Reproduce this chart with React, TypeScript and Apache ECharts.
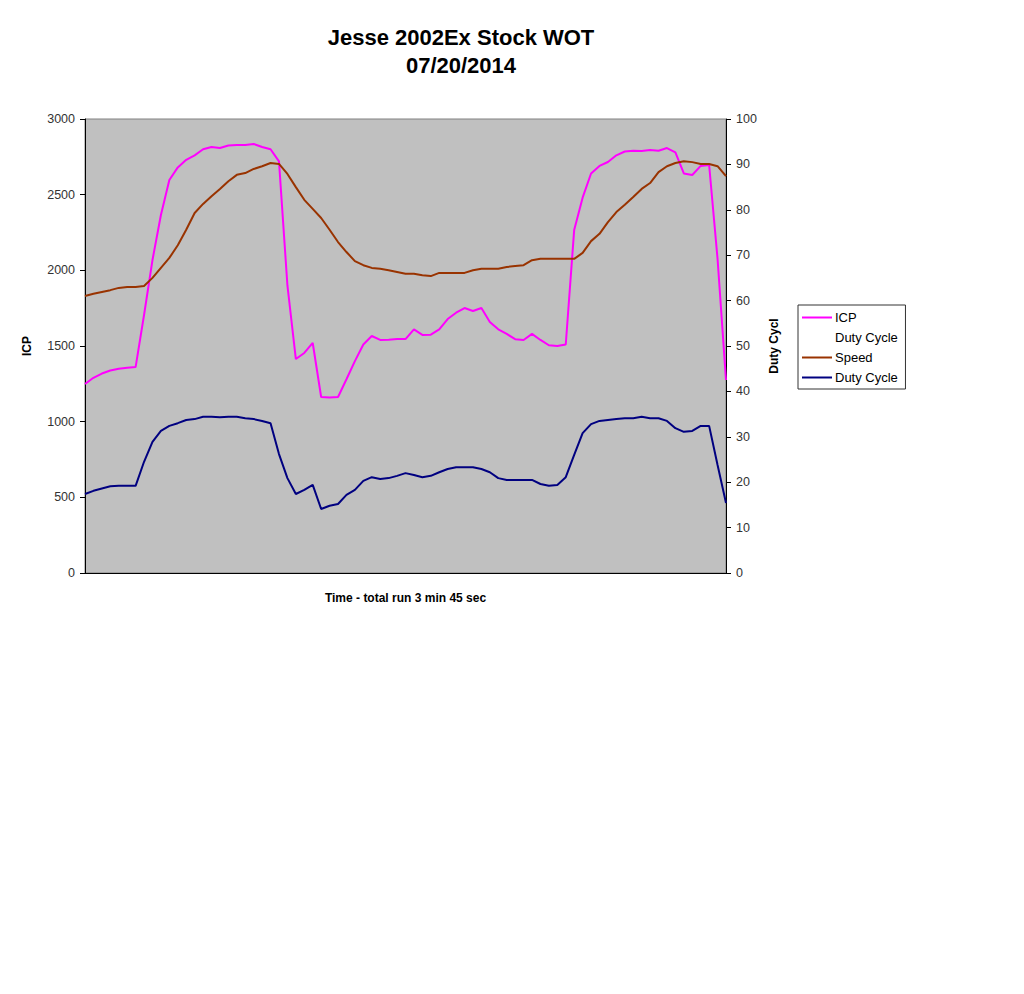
import React, { useEffect, useRef } from "react";
import * as echarts from "echarts";

const icp = [
  1249, 1290, 1318, 1338, 1350, 1356, 1361, 1705, 2068, 2366,
  2597, 2680, 2730, 2760, 2800, 2815, 2808, 2825, 2828, 2828,
  2835, 2815, 2800, 2720, 1900, 1414, 1454, 1520, 1163, 1160,
  1163, 1280, 1400, 1510, 1566, 1540, 1542, 1546, 1546, 1610,
  1573, 1575, 1610, 1678, 1720, 1751, 1731, 1751, 1658, 1610,
  1580, 1545, 1540, 1580, 1540, 1505, 1500, 1510, 2267, 2480,
  2640, 2690, 2716, 2760, 2785, 2790, 2789, 2795, 2790, 2808,
  2780, 2640, 2630, 2690, 2696, 2075, 1275,
];

const speed = [
  61.0, 61.5, 61.9, 62.3, 62.8, 63.0, 63.0, 63.2, 65.0, 67.2,
  69.4, 72.2, 75.6, 79.3, 81.3, 83.0, 84.6, 86.3, 87.7, 88.1,
  89.0, 89.6, 90.3, 90.1, 87.9, 85.0, 82.2, 80.2, 78.2, 75.6,
  72.9, 70.7, 68.7, 67.8, 67.2, 67.0, 66.7, 66.3, 65.9, 65.9,
  65.6, 65.4, 66.1, 66.1, 66.1, 66.1, 66.7, 67.0, 67.0, 67.0,
  67.4, 67.6, 67.8, 68.9, 69.2, 69.2, 69.2, 69.2, 69.2, 70.5,
  73.1, 74.7, 77.3, 79.5, 81.1, 82.8, 84.6, 85.9, 88.3, 89.6,
  90.3, 90.7, 90.5, 90.1, 90.1, 89.6, 87.4,
];

const dutyCycle = [
  17.4, 18.1, 18.6, 19.1, 19.2, 19.2, 19.2, 24.5, 28.9, 31.3,
  32.4, 33.0, 33.7, 33.9, 34.4, 34.4, 34.3, 34.4, 34.4, 34.1,
  33.9, 33.5, 33.0, 26.2, 20.9, 17.4, 18.3, 19.4, 14.1, 14.8,
  15.2, 17.2, 18.3, 20.3, 21.1, 20.7, 20.9, 21.4, 22.0, 21.6,
  21.1, 21.4, 22.2, 22.9, 23.3, 23.3, 23.3, 22.9, 22.2, 20.9,
  20.5, 20.5, 20.5, 20.5, 19.6, 19.2, 19.4, 21.1, 26.0, 30.8,
  32.8, 33.5, 33.7, 33.9, 34.1, 34.1, 34.4, 34.1, 34.1, 33.5,
  31.9, 31.1, 31.3, 32.4, 32.4, 23.8, 15.4,
];

const categories = icp.map((_, i) => String(i + 1));
const blankDuty: (number | null)[] = icp.map(() => null);

const leftTicks = { min: 0, max: 3000, interval: 500 };
const rightTicks = { min: 0, max: 100, interval: 10 };

export default function App() {
  const ref = useRef<HTMLDivElement>(null);
  useEffect(() => {
    if (!ref.current) return;
    const chart = echarts.init(ref.current, null, { renderer: "svg" });
    const font = "Liberation Sans, Arial, sans-serif";
    chart.setOption({
      animation: false,
      backgroundColor: "#ffffff",
      textStyle: { fontFamily: font },
      title: {
        text: "Jesse 2002Ex Stock WOT\n07/20/2014",
        left: 456,
        top: 18,
        textAlign: "center",
        textStyle: {
          fontFamily: font,
          fontSize: 22,
          fontWeight: "bold",
          color: "#000",
          lineHeight: 28,
        },
      },
      legend: {
        orient: "vertical",
        left: 798,
        top: 305,
        padding: [6, 4, 5, 4],
        itemGap: 7,
        itemWidth: 30,
        itemHeight: 2,
        icon: "rect",
        borderColor: "#333",
        borderWidth: 1,
        borderRadius: 0,
        backgroundColor: "#fff",
        selectedMode: false,
        textStyle: { fontFamily: font, fontSize: 13, color: "#000", padding: [0, 4, 0, -2] },
        data: [
          { name: "ICP" },
          { name: "Duty Cycle " },
          { name: "Speed" },
          { name: "Duty Cycle" },
        ],
      },
      grid: {
        left: 85,
        top: 119,
        width: 641,
        height: 454,
        show: true,
        backgroundColor: "#C0C0C0",
        borderColor: "#808080",
        borderWidth: 1,
      },
      xAxis: {
        type: "category",
        data: categories,
        boundaryGap: false,
        axisLine: { show: true, lineStyle: { color: "#000", width: 1 } },
        axisTick: { show: false },
        axisLabel: { show: false },
        splitLine: { show: false },
        name: "Time - total run 3 min 45 sec",
        nameLocation: "middle",
        nameGap: 19,
        nameTextStyle: { fontFamily: font, fontSize: 12, fontWeight: "bold", color: "#000" },
      },
      yAxis: [
        {
          type: "value",
          min: leftTicks.min,
          max: leftTicks.max,
          interval: leftTicks.interval,
          position: "left",
          axisLine: { show: true, lineStyle: { color: "#000", width: 1 } },
          axisTick: { show: true, length: 5, inside: false, lineStyle: { color: "#000" } },
          axisLabel: {
            fontFamily: font,
            fontSize: 12.5,
            color: "#333",
            margin: 10,
            formatter: (v: number) => String(v),
          },
          splitLine: { show: false },
          name: "ICP",
          nameLocation: "middle",
          nameRotate: 90,
          nameGap: 52,
          nameTextStyle: { fontFamily: font, fontSize: 12, fontWeight: "bold", color: "#000" },
        },
        {
          type: "value",
          min: rightTicks.min,
          max: rightTicks.max,
          interval: rightTicks.interval,
          position: "right",
          axisLine: { show: true, lineStyle: { color: "#000", width: 1 } },
          axisTick: { show: true, length: 5, inside: false, lineStyle: { color: "#000" } },
          axisLabel: {
            fontFamily: font,
            fontSize: 12.5,
            color: "#333",
            margin: 10,
            formatter: (v: number) => String(v),
          },
          splitLine: { show: false },
          name: "Duty Cycl",
          nameLocation: "middle",
          nameRotate: 90,
          nameGap: 40,
          nameTextStyle: { fontFamily: font, fontSize: 12, fontWeight: "bold", color: "#000" },
        },
      ],
      series: [
        {
          name: "ICP",
          type: "line",
          yAxisIndex: 0,
          data: icp,
          showSymbol: false,
          color: "#FF00FF",
          lineStyle: { color: "#FF00FF", width: 2 },
        },
        {
          name: "Duty Cycle ",
          type: "line",
          yAxisIndex: 1,
          data: blankDuty,
          showSymbol: false,
          color: "#FFFFFF",
          lineStyle: { color: "#FFFFFF", width: 2 },
        },
        {
          name: "Speed",
          type: "line",
          yAxisIndex: 1,
          data: speed,
          showSymbol: false,
          color: "#993300",
          lineStyle: { color: "#993300", width: 2 },
        },
        {
          name: "Duty Cycle",
          type: "line",
          yAxisIndex: 1,
          data: dutyCycle,
          showSymbol: false,
          color: "#000080",
          lineStyle: { color: "#000080", width: 2 },
        },
      ],
    });
    return () => chart.dispose();
  }, []);
  return (
    <div
      ref={ref}
      style={{ position: "absolute", left: 0, top: 0, width: 1024, height: 994 }}
    />
  );
}
